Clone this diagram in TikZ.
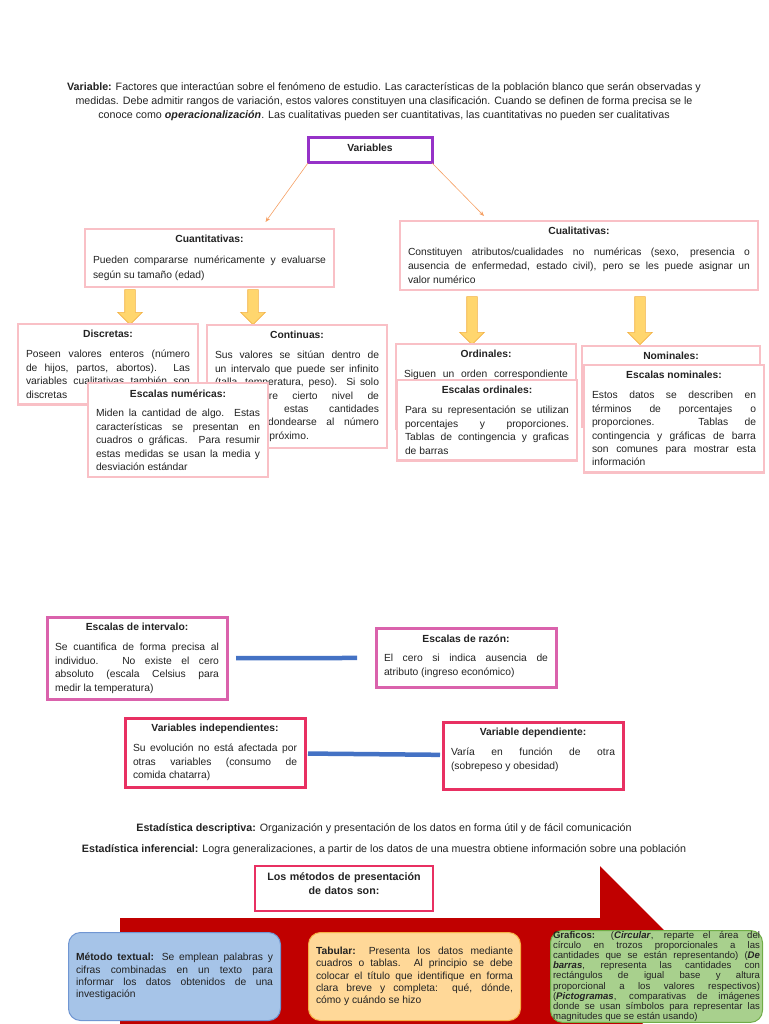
\documentclass[tikz,border=0pt]{standalone}
\usepackage{fontspec}
\setmainfont{Liberation Sans}
\usetikzlibrary{shapes.arrows,arrows.meta,positioning}
\definecolor{vtext}{RGB}{35,35,35}
\definecolor{vpurple}{RGB}{150,50,200}
\definecolor{vpink}{RGB}{249,192,198}
\definecolor{vmag}{RGB}{218,98,172}
\definecolor{vcrimson}{RGB}{232,48,98}
\definecolor{vorange}{RGB}{245,160,100}
\definecolor{vyellow}{RGB}{255,214,110}
\definecolor{vyellowd}{RGB}{243,178,70}
\definecolor{vblue}{RGB}{68,114,196}
\definecolor{vred}{RGB}{192,0,0}
\definecolor{mblue}{RGB}{166,196,232}
\definecolor{mblued}{RGB}{112,150,210}
\definecolor{mora}{RGB}{255,216,152}
\definecolor{morad}{RGB}{245,176,70}
\definecolor{mgreen}{RGB}{168,208,141}
\definecolor{mgreend}{RGB}{112,173,71}
\setlength{\parindent}{0pt}
\hyphenpenalty=10000
\exhyphenpenalty=10000
\tolerance=9999
\newcommand{\btitle}[1]{{\centering\textbf{#1}\par}\vspace{6.5pt}}
\tikzset{
  pbox/.style={rectangle,draw=#1,line width=2.5pt,fill=white,text width=164pt,
    align=justify,inner xsep=8pt,inner ysep=6.5pt,outer sep=0pt,anchor=north west,
    font=\fontsize{10.3}{13.4}\selectfont,text=vtext},
  pbox/.default=vpink,
  oarr/.style={-{Stealth[length=5pt,width=4pt]},line width=0.6pt,draw=vorange},
  yarr/.style={single arrow,shape border rotate=270,fill=vyellow,draw=vyellowd,
    line width=0.6pt,minimum width=24pt,single arrow head extend=7pt,inner sep=5pt},
  bline/.style={line width=4.5pt,draw=vblue},
  ltext/.style={font=\fontsize{10.7}{14}\selectfont,text=vtext,align=center},
  mbox/.style={rectangle,rounded corners=12pt,line width=1pt,anchor=north west,
    align=justify,inner xsep=7.5pt,minimum height=88pt,
    font=\fontsize{10.3}{12.3}\selectfont,text=vtext},
}
\begin{document}
\begin{tikzpicture}[x=1pt,y=-1pt]
\useasboundingbox (0,0) rectangle (768,1024);
\clip (0,0) rectangle (768,1024);

\node[ltext] (intro) at (384,102) {\textbf{Variable:} Factores que interactúan sobre el fenómeno de estudio. Las características de la población blanco que serán observadas y\\
  medidas. Debe admitir rangos de variación, estos valores constituyen una clasificación. Cuando se definen de forma precisa se le\\
  conoce como \textbf{\textit{operacionalización}}. Las cualitativas pueden ser cuantitativas, las cuantitativas no pueden ser cualitativas};

\node[pbox=vpurple,line width=3pt,text width=110pt,align=center,inner ysep=6pt,text depth=5.5pt,
  inner xsep=7pt] (vars) at (308,138) {\textbf{Variables}};

\node[pbox,text width=233pt,font=\fontsize{10.3}{14.5}\selectfont] (cuant) at (85,229)
  {\btitle{Cuantitativas:}Pueden compararse numéricamente y evaluarse\linebreak según su tamaño (edad)};
\node[pbox,text width=342pt,font=\fontsize{10.3}{14}\selectfont] (cualit) at (400,221)
  {\btitle{Cualitativas:}Constituyen atributos/cualidades no numéricas (sexo, presencia o\linebreak ausencia de enfermedad, estado civil), pero se les puede asignar un\linebreak valor numérico};

\draw[oarr] (vars.south west) -- ([xshift=56pt,yshift=7pt]cuant.north);
\draw[oarr] (vars.south east) -- ([xshift=-95pt,yshift=5pt]cualit.north);

\node[yarr,minimum height=35pt] (ya1) at (130,304.5) {};
\node[yarr,minimum height=35pt] (ya2) at (253,304.5) {};
\node[yarr,minimum height=48pt] (ya3) at (472,318) {};
\node[yarr,minimum height=48pt] (ya4) at (640,318) {};

\node[pbox] (disc) at (18,324)
  {\btitle{Discretas:}Poseen valores enteros (número\linebreak de hijos, partos, abortos). Las\linebreak variables cualitativas también son\linebreak discretas};
\node[pbox] (cont) at (207,325)
  {\btitle{Continuas:}Sus valores se sitúan dentro de\linebreak un intervalo que puede ser infinito\linebreak (talla, temperatura, peso). Si solo\linebreak se requiere cierto nivel de\linebreak precisión, estas cantidades\linebreak pueden redondearse al número\linebreak entero más próximo.};
\node[pbox] (escnum) at (88,383)
  {\btitle{Escalas numéricas:}Miden la cantidad de algo. Estas\linebreak características se presentan en\linebreak cuadros o gráficas. Para resumir\linebreak estas medidas se usan la media y\linebreak desviación estándar};

\node[pbox,text depth=64pt] (ordi) at (396,344)
  {\btitle{Ordinales:}{\parfillskip=0pt Siguen un orden correspondiente\par}};
\node[pbox,text width=162pt,align=center,text depth=60pt] (nomi) at (582,346) {\textbf{Nominales:}};
\node[pbox] (escord) at (397,380)
  {\btitle{Escalas ordinales:}Para su representación se utilizan\linebreak porcentajes y proporciones.\linebreak Tablas de contingencia y graficas\linebreak de barras};
\node[pbox] (escnom) at (584,365)
  {\btitle{Escalas nominales:}Estos datos se describen en\linebreak términos de porcentajes o\linebreak proporciones. Tablas de\linebreak contingencia y gráficas de barra\linebreak son comunes para mostrar esta\linebreak información};

\node[pbox=vmag,line width=3pt] (interv) at (47,617)
  {\btitle{Escalas de intervalo:}Se cuantifica de forma precisa al\linebreak individuo. No existe el cero\linebreak absoluto (escala Celsius para\linebreak medir la temperatura)};
\node[pbox=vmag,line width=3pt,text depth=39pt] (razon) at (376,628)
  {\btitle{Escalas de razón:}El cero si indica ausencia de\linebreak atributo (ingreso económico)};
\draw[bline,shorten <=9pt,shorten >=19pt] (interv) -- (razon);

\node[pbox=vcrimson,line width=3pt] (indep) at (125,718)
  {\btitle{Variables independientes:}Su evolución no está afectada por\linebreak otras variables (consumo de\linebreak comida chatarra)};
\node[pbox=vcrimson,line width=3pt,text depth=47pt] (dep) at (443,722)
  {\btitle{Variable dependiente:}Varía en función de otra\linebreak (sobrepeso y obesidad)};
\draw[bline,shorten <=3pt,shorten >=3pt] (indep) -- (dep);

\node[ltext] (desc) at (384,829) {\textbf{Estadística descriptiva:} Organización y presentación de los datos en forma útil y de fácil comunicación};
\node[ltext] (infer) at (384,850) {\textbf{Estadística inferencial:} Logra generalizaciones, a partir de los datos de una muestra obtiene información sobre una población};

\node[pbox=vcrimson,line width=2.5pt,text width=162pt,align=center,text depth=24pt,
  font=\fontsize{10.7}{14}\selectfont] (metodos) at (255,866)
  {\textbf{Los métodos de presentación}\\\textbf{de datos son:}};

\fill[vred] (120,918) -- (600,918) -- (600,866) -- (700,966) -- (600,1066)
  -- (600,1040) -- (120,1040) -- cycle;

\node[mbox,fill=mblue,draw=mblued,text width=197pt] (textual) at (68,932)
  {\textbf{Método textual:} Se emplean palabras y\linebreak cifras combinadas en un texto para\linebreak informar los datos obtenidos de una\linebreak investigación};
\node[mbox,fill=mora,draw=morad,text width=197pt] (tabular) at (308,932)
  {\textbf{Tabular:} Presenta los datos mediante\linebreak cuadros o tablas. Al principio se debe\linebreak colocar el título que identifique en forma\linebreak clara breve y completa: qué, dónde,\linebreak cómo y cuándo se hizo};
\node[mbox,fill=mgreen,draw=mgreend,text width=207pt,inner xsep=2.5pt,minimum height=91pt,
  inner ysep=1pt,font=\fontsize{9.6}{10.1}\selectfont] (graficos) at (550,930)
  {\textbf{Graficos:} (\textbf{\textit{Circular}}, reparte el área del\linebreak círculo en trozos proporcionales a las\linebreak cantidades que se están representando) (\textbf{\textit{De}}\linebreak \textbf{\textit{barras}}, representa las cantidades con\linebreak rectángulos de igual base y altura\linebreak proporcional a los valores respectivos)\linebreak (\textbf{\textit{Pictogramas}}, comparativas de imágenes\linebreak donde se usan símbolos para representar las\linebreak magnitudes que se están usando)};
\end{tikzpicture}
\end{document}
